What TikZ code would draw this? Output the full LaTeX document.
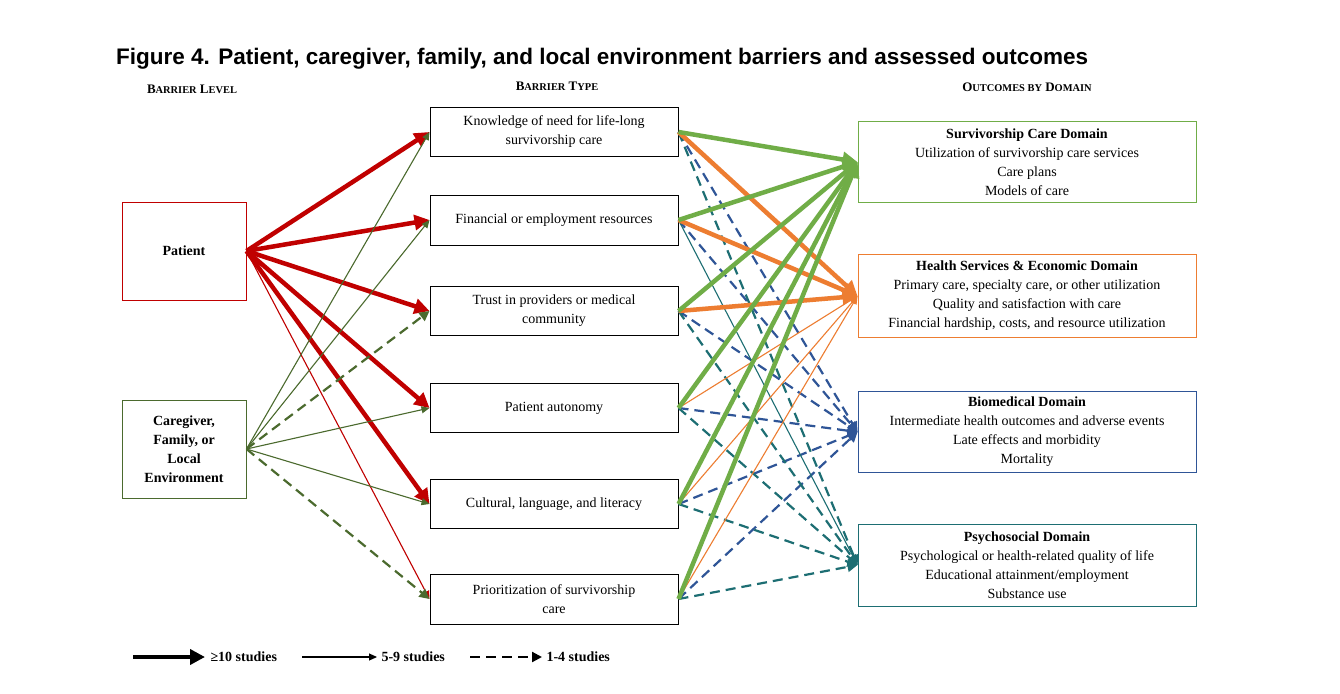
\documentclass[tikz,border=0pt]{standalone}
\usepackage{fontspec}
\setmainfont{Liberation Serif}
\newfontfamily\titlefont{Liberation Sans}
\usetikzlibrary{arrows.meta}
\definecolor{cred}{HTML}{C00000}
\definecolor{cgreen}{HTML}{70AD47}
\definecolor{corange}{HTML}{ED7D31}
\definecolor{cblue}{HTML}{2F5597}
\definecolor{cteal}{HTML}{1D6E73}
\definecolor{cdg}{HTML}{4B6A2E}
\tikzset{
 box/.style={draw,line width=1pt,minimum width=248pt,align=center,font=\fontsize{14}{19}\selectfont,inner sep=2pt},
 dbox/.style={draw,line width=1pt,minimum width=338pt,align=center,font=\fontsize{14}{19}\selectfont,inner sep=2pt},
 lbox/.style={draw,line width=1pt,minimum width=124pt,align=center,font=\fontsize{14}{19}\selectfont\bfseries},
 thick5/.style={line width=4.5pt,-{Triangle[length=15pt,width=15pt]}},
 thin5/.style={line width=1.1pt,-{Triangle[length=8pt,width=7pt]}},
 dash5/.style={line width=2.2pt,dash pattern=on 10pt off 6pt,-{Triangle[length=10pt,width=10pt]}},
 hdr/.style={font=\fontsize{13}{15}\selectfont\bfseries},
 leg/.style={anchor=west,font=\fontsize{14}{16}\selectfont\bfseries}
}
\begin{document}
\begin{tikzpicture}[x=1pt,y=-1pt]
\useasboundingbox[fill=white] (0,0) rectangle (1340,693);
\node[anchor=west,font=\titlefont\fontsize{22.5}{26}\selectfont\bfseries,inner sep=0pt] (title) at (116,59) {Figure 4. Patient, caregiver, family, and local environment barriers and assessed outcomes};
\node[hdr] (h1) at (192,89) {B\scalebox{0.8}{ARRIER} L\scalebox{0.8}{EVEL}};
\node[hdr] (h2) at (557,86) {B\scalebox{0.8}{ARRIER} T\scalebox{0.8}{YPE}};
\node[hdr] (h3) at (1027,87) {O\scalebox{0.8}{UTCOMES BY} D\scalebox{0.8}{OMAIN}};

\node[lbox,draw=cred,minimum height=98pt] (pat) at (184,251) {Patient};
\node[lbox,draw=cdg,minimum height=98pt] (car) at (184,449) {Caregiver,\\Family, or\\Local\\Environment};

\node[box,minimum height=49pt] (k) at (554,132) {Knowledge of need for life-long\\survivorship care};
\node[box,minimum height=50pt] (f) at (554,220) {Financial or employment resources};
\node[box,minimum height=49pt] (t) at (554,311) {Trust in providers or medical\\community};
\node[box,minimum height=49pt] (a) at (554,408) {Patient autonomy};
\node[box,minimum height=49pt] (c) at (554,504) {Cultural, language, and literacy};
\node[box,minimum height=50pt] (p) at (554,599) {Prioritization of survivorship\\care};

\node[dbox,draw=cgreen,minimum height=81pt] (s) at (1027,162) {\textbf{Survivorship Care Domain}\\Utilization of survivorship care services\\Care plans\\Models of care};
\node[dbox,draw=corange,minimum height=83pt] (hs) at (1027,296) {\textbf{Health Services \& Economic Domain}\\Primary care, specialty care, or other utilization\\Quality and satisfaction with care\\Financial hardship, costs, and resource utilization};
\node[dbox,draw=cblue,minimum height=81pt] (b) at (1027,432) {\textbf{Biomedical Domain}\\Intermediate health outcomes and adverse events\\Late effects and morbidity\\Mortality};
\node[dbox,draw=cteal,minimum height=82pt] (ps) at (1027,565) {\textbf{Psychosocial Domain}\\Psychological or health-related quality of life\\Educational attainment/employment\\Substance use};

% left side
\foreach \n in {k,f,t,a,c} \draw[thick5,cred] (pat.east) -- (\n.west);
\draw[thin5,cred] (pat.east) -- (p.west);
\foreach \n in {k,f,a,c} \draw[thin5,cdg] (car.east) -- (\n.west);
\foreach \n in {t,p} \draw[dash5,cdg] (car.east) -- (\n.west);

% right side
\foreach \n in {k,f,t,a,c,p} {
  \draw[dash5,cblue] (\n.east) -- (b.west);
}
\foreach \n in {k,t,a,c,p} \draw[dash5,cteal] (\n.east) -- (ps.west);
\draw[thin5,cteal] (f.east) -- (ps.west);
\foreach \n in {a,c,p} \draw[thin5,corange] (\n.east) -- (hs.west);
\foreach \n in {k,f,t} \draw[thick5,corange] (\n.east) -- (hs.west);
\foreach \n in {k,f,t,a,c,p} \draw[thick5,cgreen] (\n.east) -- (s.west);

% legend
\coordinate (l1a) at (133,657); \coordinate (l1b) at (205,657);
\draw[thick5,black] (l1a) -- (l1b);
\node[leg] (t1) at (207,657) {≥10 studies};
\coordinate (l2a) at (302,657); \coordinate (l2b) at (377,657);
\draw[thin5,black] (l2a) -- (l2b);
\node[leg] (t2) at (378,657) {5-9 studies};
\coordinate (l3a) at (470,657); \coordinate (l3b) at (542,657);
\draw[dash5,black] (l3a) -- (l3b);
\node[leg] (t3) at (543,657) {1-4 studies};
\end{tikzpicture}
\end{document}
